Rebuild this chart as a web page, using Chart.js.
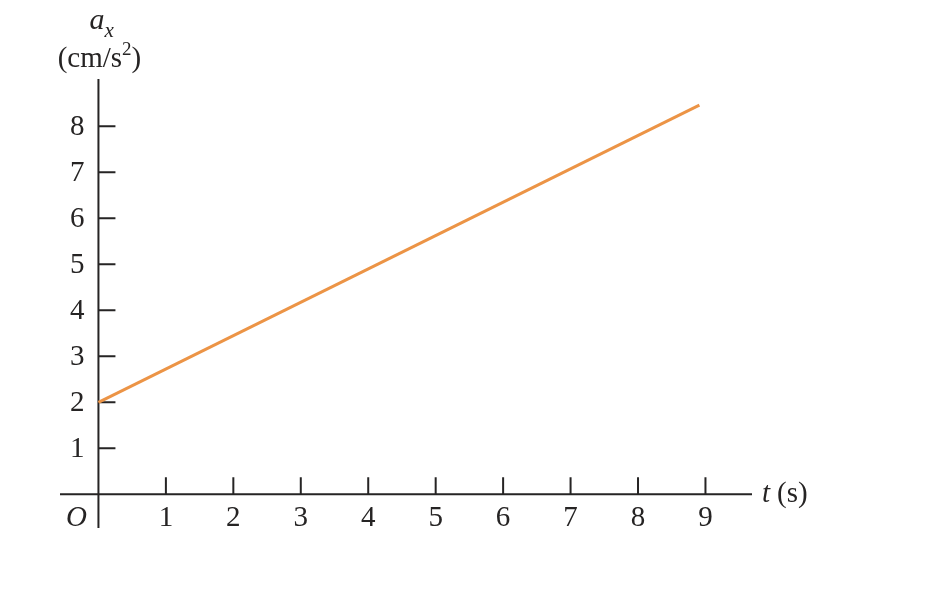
<!DOCTYPE html>
<html>
<head>
<meta charset="utf-8">
<style>
  html, body { margin: 0; padding: 0; background: #fff; }
  #wrap { position: relative; width: 946px; height: 608px; }
</style>
<script src="https://cdn.jsdelivr.net/npm/chart.js@4/dist/chart.umd.min.js"></script>
</head>
<body>
<div id="wrap"><canvas id="chart"></canvas></div>
<script>
// acceleration vs time
const times = [0, 8.91];
const accel = [2, 8.46];
const xTicks = [1, 2, 3, 4, 5, 6, 7, 8, 9];
const yTicks = [1, 2, 3, 4, 5, 6, 7, 8];

const INK = "#262424";
const ORANGE = "#ec9446";
const SERIF = '"Liberation Serif", "DejaVu Serif", serif';

const axesPlugin = {
  id: "textbookAxes",
  beforeDatasetsDraw(chart) {
    const { ctx, chartArea, scales } = chart;
    const x = scales.x;
    const y = scales.y;
    const x0 = x.getPixelForValue(0);
    const y0 = y.getPixelForValue(0);

    ctx.save();
    ctx.strokeStyle = INK;
    ctx.lineWidth = 2;

    // axis lines
    ctx.beginPath();
    ctx.moveTo(x0, chartArea.top);
    ctx.lineTo(x0, chartArea.bottom);
    ctx.moveTo(chartArea.left, y0);
    ctx.lineTo(chartArea.right, y0);
    ctx.stroke();

    // tick marks
    ctx.beginPath();
    for (const t of xTicks) {
      const px = x.getPixelForValue(t);
      ctx.moveTo(px, y0);
      ctx.lineTo(px, y0 - 17);
    }
    for (const v of yTicks) {
      const py = y.getPixelForValue(v);
      ctx.moveTo(x0, py);
      ctx.lineTo(x0 + 17, py);
    }
    ctx.stroke();

    // tick labels
    ctx.fillStyle = INK;
    ctx.font = `29px ${SERIF}`;
    ctx.textBaseline = "middle";
    ctx.textAlign = "center";
    for (const t of xTicks) {
      ctx.fillText(String(t), x.getPixelForValue(t), y0 + 24);
    }
    ctx.textAlign = "right";
    for (const v of yTicks) {
      ctx.fillText(String(v), x0 - 14, y.getPixelForValue(v) + 1);
    }

    // origin
    ctx.textAlign = "center";
    ctx.font = `italic 29px ${SERIF}`;
    ctx.fillText("O", x0 - 22, y0 + 24);

    // x-axis title
    ctx.textAlign = "left";
    ctx.textBaseline = "alphabetic";
    ctx.font = `italic 29px ${SERIF}`;
    ctx.fillText("t", chartArea.right + 10, y0 + 8);
    ctx.font = `29px ${SERIF}`;
    ctx.fillText("(s)", chartArea.right + 25, y0 + 8);

    // y-axis title
    ctx.font = `italic 30px ${SERIF}`;
    ctx.textAlign = "left";
    ctx.fillText("a", x0 - 9, 29);
    ctx.font = `italic 21px ${SERIF}`;
    ctx.fillText("x", x0 + 6, 37);

    const main = "(cm/s";
    const close = ")";
    ctx.font = `29px ${SERIF}`;
    const wMain = ctx.measureText(main).width;
    const wClose = ctx.measureText(close).width;
    ctx.font = `19px ${SERIF}`;
    const wSup = ctx.measureText("2").width;
    const startX = x0 - (wMain + wSup + wClose) / 2 + 1;
    ctx.font = `29px ${SERIF}`;
    ctx.fillText(main, startX, 67);
    ctx.font = `19px ${SERIF}`;
    ctx.fillText("2", startX + wMain, 55);
    ctx.font = `29px ${SERIF}`;
    ctx.fillText(close, startX + wMain + wSup, 67);

    ctx.restore();
  },
};

new Chart(document.getElementById("chart"), {
  type: "line",
  data: {
    datasets: [
      {
        data: times.map((t, i) => ({ x: t, y: accel[i] })),
        borderColor: ORANGE,
        borderWidth: 3,
        pointRadius: 0,
        fill: false,
        tension: 0,
      },
    ],
  },
  options: {
    responsive: true,
    maintainAspectRatio: false,
    animation: false,
    devicePixelRatio: 1,
    layout: { padding: { left: 60, right: 194, top: 79, bottom: 80 } },
    plugins: { legend: { display: false }, tooltip: { enabled: false } },
    scales: {
      x: { type: "linear", min: -0.57, max: 9.69, display: false },
      y: { type: "linear", min: -0.733, max: 9.03, display: false },
    },
  },
  plugins: [axesPlugin],
});
</script>
</body>
</html>
